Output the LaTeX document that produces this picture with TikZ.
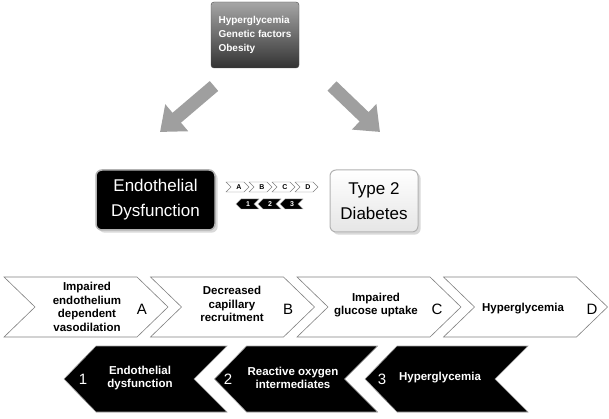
\documentclass[tikz,border=0pt]{standalone}
\usepackage{fontspec}
\setmainfont{Liberation Sans}
\usetikzlibrary{positioning,arrows.meta,shadows}
\begin{document}
\begin{tikzpicture}[x=1pt,y=-1pt]
\tikzstyle{causeStyle}=[rounded corners=3pt, draw=gray!60!black, top color=gray!70, bottom color=gray!40!black, text=white, font=\bfseries\fontsize{10}{14}\selectfont, align=left, minimum width=88pt, minimum height=66pt, inner sep=0pt]
\tikzstyle{blackBox}=[rounded corners=6pt, fill=black, draw=gray!60, line width=1.5pt, text=white, font=\fontsize{17}{25}\selectfont, align=center, minimum width=119pt, minimum height=60pt, drop shadow={opacity=0.3}]
\tikzstyle{whiteBox}=[rounded corners=6pt, draw=gray!60, line width=1pt, top color=white, bottom color=gray!20, font=\fontsize{17}{25}\selectfont, align=center, minimum width=88pt, minimum height=62pt, drop shadow={opacity=0.3}]
\tikzstyle{bigArrow}=[-{Triangle[length=22pt,width=34pt]}, line width=13pt, draw=gray!75]
\tikzstyle{stepText}=[font=\bfseries\fontsize{11.5}{13.5}\selectfont, align=center]
\tikzstyle{letterText}=[font=\fontsize{15}{15}\selectfont]
\tikzstyle{whiteChev}=[draw=gray, fill=white, line width=0.6pt]
\tikzstyle{blackChev}=[draw=gray!70, fill=black, line width=0.6pt]
\useasboundingbox (0,0) rectangle (609,419);
% causes
\node[causeStyle] (causes) at (255,35) {Hyperglycemia\\Genetic factors\\Obesity};
\node[blackBox] (endo) at (155.5,200) {Endothelial\\Dysfunction};
\node[whiteBox] (diab) at (374,201) {Type 2\\Diabetes};
\coordinate (la) at (214,86);
\coordinate (ra) at (332,86);
\draw[bigArrow] (la) -- (160,132);
\draw[bigArrow] (ra) -- (380,132);
% small chevrons
\foreach \l [count=\i from 0] in {A,B,C,D}
  \draw[whiteChev, line width=0.4pt] ({226+23*\i},182) -- ({244+23*\i},182) -- ({249+23*\i},187) -- ({244+23*\i},192) -- ({226+23*\i},192) -- ({231+23*\i},187) -- cycle
    node[font=\bfseries\fontsize{7}{7}\selectfont] at ({239+23*\i},187) {\l};
\foreach \l [count=\i from 0] in {1,2,3}
  \draw[blackChev, line width=0.4pt] ({236+22*\i},204) -- ({241+22*\i},199) -- ({259+22*\i},199) -- ({254+22*\i},204) -- ({259+22*\i},209) -- ({241+22*\i},209) -- cycle
    node[text=white, font=\bfseries\fontsize{7}{7}\selectfont] at ({248+22*\i},204) {\l};
% first row
\foreach \i in {0,...,3}
  \draw[whiteChev] ({4+146.5*\i},277) -- ({137+146.5*\i},277) -- ({168+146.5*\i},307) -- ({137+146.5*\i},337) -- ({4+146.5*\i},337) -- ({35+146.5*\i},307) -- cycle;
\node[stepText] (sA) at (87,307) {Impaired\\endothelium\\dependent\\vasodilation};
\node[letterText] (lA) at (142,309) {A};
\node[stepText] (sB) at (232,304) {Decreased\\capillary\\recruitment};
\node[letterText] (lB) at (288,309) {B};
\node[stepText] (sC) at (376,305) {Impaired\\glucose uptake};
\node[letterText] (lC) at (437,309) {C};
\node[stepText] (sD) at (523,309) {Hyperglycemia};
\node[letterText] (lD) at (592,309) {D};
% second row
\foreach \i in {0,1,2}
  \draw[blackChev] ({64+150.5*\i},379) -- ({96+150.5*\i},346) -- ({227+150.5*\i},346) -- ({194+150.5*\i},379) -- ({227+150.5*\i},412) -- ({96+150.5*\i},412) -- cycle;
\node[letterText, text=white] (n1) at (83,379) {1};
\node[stepText, text=white] (e1) at (140,378) {Endothelial\\dysfunction};
\node[letterText, text=white] (n2) at (228,379) {2};
\node[stepText, text=white] (e2) at (293,378) {Reactive oxygen\\intermediates};
\node[letterText, text=white] (n3) at (382,379) {3};
\node[stepText, text=white] (e3) at (440,378) {Hyperglycemia};
\end{tikzpicture}
\end{document}
